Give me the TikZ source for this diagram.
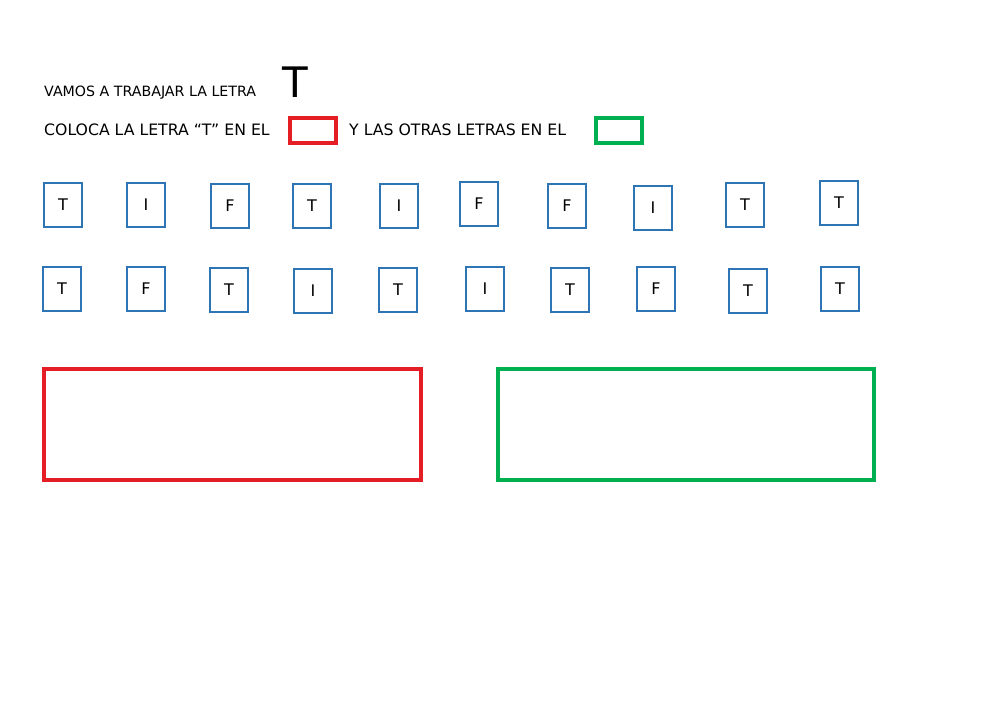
\documentclass[tikz,border=0pt]{standalone}
\usepackage{fontspec}
\setmainfont{DejaVu Sans}
\begin{document}
\begin{tikzpicture}[x=1pt,y=-1pt,
  lbox/.style={draw={rgb,255:red,46;green,117;blue,182},line width=2.4pt,minimum width=38pt,minimum height=44pt,font=\fontsize{16}{16}\selectfont},
  txt/.style={anchor=west,inner sep=0pt}]
\useasboundingbox (0,0) rectangle (1000,707);
\definecolor{rd}{RGB}{228,30,36}
\definecolor{gn}{RGB}{0,176,80}
\node[txt,font=\fontsize{14.2}{14}\selectfont] (t1) at (44,93) {VAMOS A TRABAJAR LA LETRA};
\node[anchor=west,inner sep=0pt,font=\fontsize{42}{42}\selectfont] (bigT) at (282,82) {T};
\node[txt,font=\fontsize{15.7}{15}\selectfont] (t2) at (44,130) {COLOCA LA LETRA “T” EN EL};
\draw[rd,line width=3.5pt] (290,118) rectangle (336,143);
\node[txt,font=\fontsize{15.7}{15}\selectfont] (t3) at (349,130) {Y LAS OTRAS LETRAS EN EL};
\draw[gn,line width=3.5pt] (596,118) rectangle (642,143);
\foreach \x/\y/\l [count=\i] in {63/205/T,146/205/I,230/206/F,312/206/T,399/206/I,479/204/F,567/206/F,653/208/I,745/205/T,839/203/T}
  \node[lbox] (a\i) at (\x,\y) {\l};
\foreach \x/\y/\l [count=\i] in {62/289/T,146/289/F,229/290/T,313/291/I,398/290/T,485/289/I,570/290/T,656/289/F,748/291/T,840/289/T}
  \node[lbox] (b\i) at (\x,\y) {\l};
\draw[rd,line width=3.5pt] (44,369) rectangle (421,480);
\draw[gn,line width=3.5pt] (498,369) rectangle (874,480);
\end{tikzpicture}
\end{document}
